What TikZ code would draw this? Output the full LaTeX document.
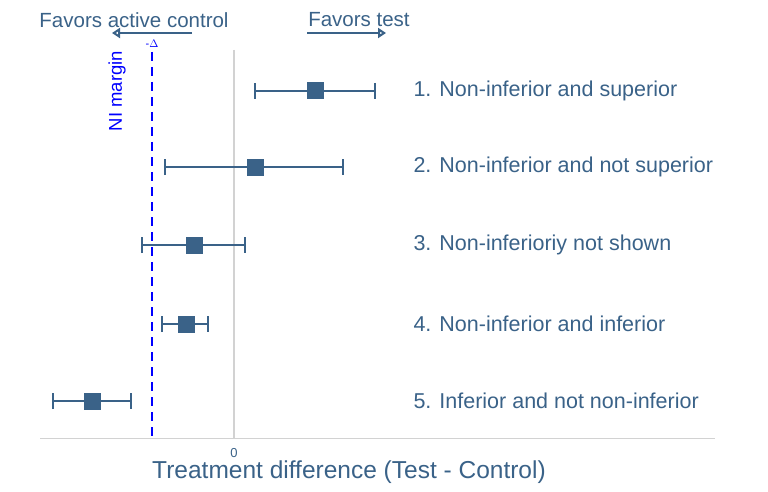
\documentclass[tikz,border=0pt]{standalone}
\usepackage{fontspec}
\setmainfont{Liberation Sans}
\usetikzlibrary{arrows.meta}
\definecolor{ciBlue}{RGB}{58,98,136}
\definecolor{axGray}{RGB}{210,210,210}
\tikzset{
    ci/.style={ciBlue, line width=2pt, {Bar[width=16pt]}-{Bar[width=16pt]}},
    est/.style={fill=ciBlue, minimum size=17pt, inner sep=0pt, rectangle},
    rowlabel/.style={anchor=west, text=ciBlue, font=\fontsize{21.5}{24}\selectfont},
    favor/.style={ciBlue, line width=2pt, -{Triangle[open, length=8pt, width=10pt]}}
}
\begin{document}
\begin{tikzpicture}[x=1pt, y=-1pt]
    \useasboundingbox (0,0) rectangle (768,492);
    % axes
    \draw[axGray, line width=0.8pt] (40,438) -- (715,438);
    \draw[axGray, line width=1.8pt] (234,50) -- (234,438);
    \node[text=ciBlue, font=\fontsize{13}{14}\selectfont] (zero) at (234,453) {0};
    \node[text=ciBlue, font=\fontsize{24.5}{26}\selectfont] (xtitle) at (349,472) {Treatment difference (Test - Control)};
    % NI margin
    \draw[blue, line width=2pt, dash pattern=on 9pt off 6pt] (152,52) -- (152,440);
    \node[text=blue, font=\fontsize{11}{12}\selectfont] (delta) at (152,44) {-$\Delta$};
    \node[text=blue, rotate=90, font=\fontsize{18.5}{20}\selectfont] (nimargin) at (117,91) {NI margin};
    % favors
    \node[text=ciBlue, font=\fontsize{20.5}{22}\selectfont] (fctrl) at (134,20) {Favors active control};
    \node[text=ciBlue, font=\fontsize{20.5}{22}\selectfont] (ftest) at (359,20) {Favors test};
    \coordinate (fctrlA) at (192,33); \coordinate (fctrlB) at (112,33);
    \coordinate (ftestA) at (307,33); \coordinate (ftestB) at (386,33);
    \draw[favor] (fctrlA) -- (fctrlB);
    \draw[favor] (ftestA) -- (ftestB);
    % intervals
    \foreach \y/\lo/\pt/\hi/\txt [count=\i] in {
        91/254/315/376/{1. Non-inferior and superior},
        167/164/255/344/{2. Non-inferior and not superior},
        245/141/194/246/{3. Non-inferioriy not shown},
        324/161/186/209/{4. Non-inferior and inferior},
        401/52/92/132/{5. Inferior and not non-inferior}} {
        \coordinate (lo\i) at (\lo,\y);
        \coordinate (hi\i) at (\hi,\y);
        \draw[ci] (lo\i) -- (hi\i);
        \node[est] (pt\i) at (\pt,\y) {};
        \node[rowlabel] (lab\i) at (410,\y) {\txt};
    }
\end{tikzpicture}
\end{document}
